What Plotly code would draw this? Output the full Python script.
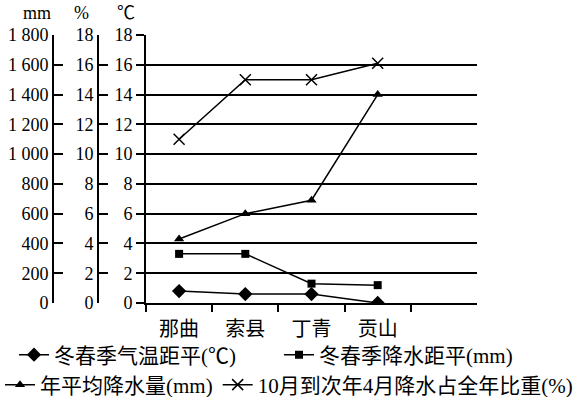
import plotly.graph_objects as go

# ---- data ----
stations = ["那曲", "索县", "丁青", "贡山"]
temp_anomaly_c = [0.8, 0.6, 0.6, 0.0]          # 冬春季气温距平(℃)
precip_anomaly_mm = [330, 330, 130, 120]       # 冬春季降水距平(mm)
annual_precip_mm = [430, 600, 690, 1400]       # 年平均降水量(mm)
oct_apr_share_pct = [11, 15, 15, 16.1]         # 10月到次年4月降水占全年比重(%)

mm_tickvals = [0, 200, 400, 600, 800, 1000, 1200, 1400, 1600, 1800]
mm_ticktext = ["0", "200", "400", "600", "800", "1 000", "1 200", "1 400", "1 600", "1 800"]
pct_tickvals = [0, 2, 4, 6, 8, 10, 12, 14, 16, 18]
c_tickvals = [0, 2, 4, 6, 8, 10, 12, 14, 16, 18]

names = ["冬春季气温距平(℃)", "冬春季降水距平(mm)", "年平均降水量(mm)", "10月到次年4月降水占全年比重(%)"]

# ---- layout geometry ----
W, H = 584, 397
FONT = "Liberation Serif, Noto Sans CJK SC, serif"
px = lambda x: x / W
py = lambda y: (H - y) / H

fig = go.Figure()
line = dict(color="black", width=1.5)

fig.add_trace(go.Scatter(x=stations, y=temp_anomaly_c, name=names[0], yaxis="y",
                         mode="lines+markers", line=line,
                         marker=dict(symbol="diamond", size=11, color="black"),
                         legend="legend"))
fig.add_trace(go.Scatter(x=stations, y=precip_anomaly_mm, name=names[1], yaxis="y3",
                         mode="lines+markers", line=line,
                         marker=dict(symbol="square", size=8, color="black"),
                         legend="legend"))
fig.add_trace(go.Scatter(x=stations, y=annual_precip_mm, name=names[2], yaxis="y3",
                         mode="lines+markers", line=line,
                         marker=dict(symbol="triangle-up", size=9, color="black"),
                         legend="legend2"))
fig.add_trace(go.Scatter(x=stations, y=oct_apr_share_pct, name=names[3], yaxis="y2",
                         mode="lines+markers", line=line,
                         marker=dict(symbol="x-thin-open", size=11, color="black",
                                     line=dict(color="black", width=1.5)),
                         legend="legend2"))

tick_font = dict(size=18, color="black", family=FONT)
axis_common = dict(showline=True, linecolor="black", linewidth=2, zeroline=False,
                   tickcolor="black", tickwidth=2, tickfont=tick_font)
title_font = dict(size=18, color="black", family=FONT)

fig.update_layout(
    width=W, height=H,
    margin=dict(l=0, r=0, t=0, b=0, autoexpand=False),
    paper_bgcolor="white", plot_bgcolor="white",
    font=dict(family=FONT, color="black"),
    xaxis=dict(domain=[px(146), px(477)], type="category", categoryorder="array",
               categoryarray=stations, range=[-0.5, 4.5], tickson="boundaries",
               ticks="outside", ticklen=7, tickwidth=2, tickcolor="black",
               showline=True, linecolor="black", linewidth=2, showgrid=False,
               ticklabelstandoff=7,
               tickfont=dict(size=20, color="black", family=FONT)),
    yaxis=dict(domain=[py(303), py(35)], range=[0, 18], tickvals=c_tickvals,
               ticks="outside", ticklen=8, showgrid=True, gridcolor="black", gridwidth=2,
               anchor="x", **axis_common),
    yaxis2=dict(overlaying="y", anchor="free", position=px(98), side="left",
                range=[0, 18], tickvals=pct_tickvals, ticks="inside", ticklen=9,
                showgrid=False, **axis_common),
    yaxis3=dict(overlaying="y", anchor="free", position=px(53), side="left",
                range=[0, 1800], tickvals=mm_tickvals, ticktext=mm_ticktext,
                ticks="inside", ticklen=9, showgrid=False, **axis_common),
    legend=dict(orientation="h", x=px(14), xanchor="left", y=py(355), yanchor="middle",
                font=dict(size=21, color="black", family=FONT), bgcolor="rgba(0,0,0,0)",
                entrywidth=220, entrywidthmode="pixels"),
    legend2=dict(orientation="h", x=0, xanchor="left", y=py(385), yanchor="middle",
                 font=dict(size=21, color="black", family=FONT), bgcolor="rgba(0,0,0,0)"),
    showlegend=True,
    annotations=[
        dict(text="mm", x=px(37), y=py(13), xref="paper", yref="paper", showarrow=False,
             xanchor="center", yanchor="middle", font=title_font),
        dict(text="%", x=px(81), y=py(13), xref="paper", yref="paper", showarrow=False,
             xanchor="center", yanchor="middle", font=title_font),
        dict(text="℃", x=px(126), y=py(13), xref="paper", yref="paper", showarrow=False,
             xanchor="center", yanchor="middle", font=title_font),
    ],
)

fig.write_html("out.html", config={"displayModeBar": False},
               post_script="document.body.style.margin='0px';")
